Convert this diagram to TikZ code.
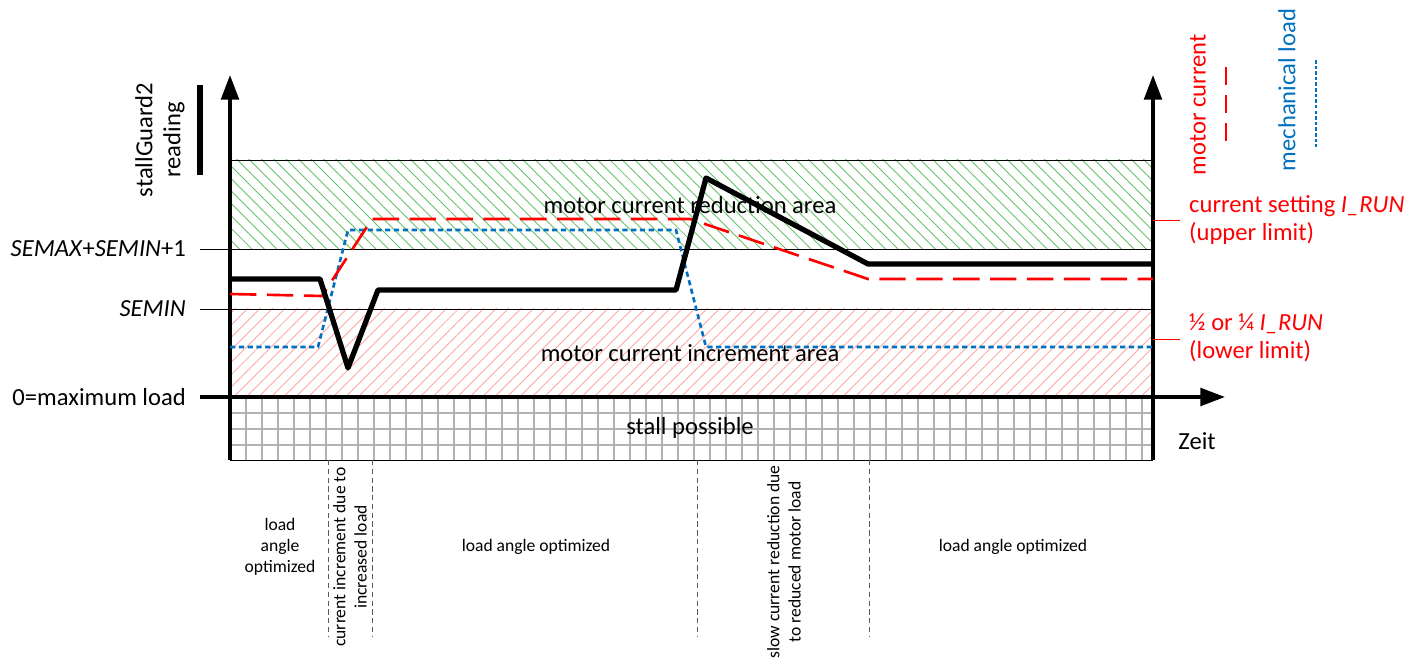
\documentclass[tikz,border=0pt]{standalone}
\usepackage{fontspec}
\setmainfont{Carlito}
\usetikzlibrary{patterns.meta,arrows.meta}
\definecolor{loadblue}{RGB}{0,112,192}
\tikzset{
  lbl/.style={font=\fontsize{14}{16}\selectfont},
  small/.style={font=\fontsize{10}{12}\selectfont,align=center},
  sep/.style={densely dashed,very thin,gray!70!black},
  axis/.style={line width=2pt,-{Triangle[length=14pt,width=10pt]}}
}
\begin{document}
\begin{tikzpicture}[x=0.02cm,y=-0.02cm]
\useasboundingbox (0,0) rectangle (1428,668);
% areas
\fill[pattern={Lines[angle=-45,distance=5pt,line width=0.5pt]},pattern color=green!60!black!60] (230,160) rectangle (1153,249);
\fill[pattern={Lines[angle=45,distance=5pt,line width=0.5pt]},pattern color=red!35] (230,309) rectangle (1153,397);
\foreach \x in {246,262,...,1150}
  \draw[gray!60,line width=1.2pt] (\x,397) -- (\x,460);
\foreach \y in {413,429,445}
  \draw[gray!60,line width=1.2pt] (230,\y) -- (1153,\y);
\draw (230,160) -- (1153,160);
\draw (200,249) -- (1153,249);
\draw (200,309) -- (1153,309);
\draw (230,460) -- (1153,460);
% axes
\draw[axis] (200,397) -- (1225,397);
\draw[axis] (230,460) -- (230,75);
\draw[axis] (1153,460) -- (1153,75);
\draw[line width=3pt] (200,85) -- (200,175);
% separators
\foreach \x in {328,372,697,869}
  \draw[sep] (\x,460) -- (\x,636);
% curves
\draw[loadblue,line width=1.5pt,dash pattern=on 3pt off 2pt]
  (230,347) -- (318,347) -- (348,230) -- (676,230) -- (706,347) -- (1153,347);
\draw[red,line width=1.5pt,dash pattern=on 15pt off 6pt]
  (230,294) -- (322,296) -- (372,219) -- (690,219) -- (868,279) -- (1153,279);
\draw[line width=3pt,line join=round]
  (230,279) -- (320,279) -- (348,368) -- (378,290) -- (676,290) -- (706,178) -- (868,264) -- (1153,264);
% area labels
\node[lbl] (red) at (690,205) {motor current reduction area};
\node[lbl] (inc) at (690,353) {motor current increment area};
\node[lbl] (stall) at (690,428) {stall possible};
\node[lbl] (zeit) at (1197,441) {Zeit};
% y labels
\node[lbl,anchor=east] (smx) at (192,249) {\textit{SEMAX}+\textit{SEMIN}+1};
\node[lbl,anchor=east] (smn) at (192,309) {\textit{SEMIN}};
\node[lbl,anchor=east] (zero) at (192,397) {0=maximum load};
\node[lbl,rotate=90,align=center] (sg) at (160,140) {stallGuard2\\reading};
% right labels
\draw[red] (1153,220) -- (1180,220);
\draw[red] (1153,339) -- (1180,339);
\node[lbl,red,anchor=west,align=left] (cs) at (1183,220) {current setting \textit{I\_RUN}\\(upper limit)};
\node[lbl,red,anchor=west,align=left] (lo) at (1183,338) {½ or ¼ \textit{I\_RUN}\\(lower limit)};
% legend
\node[lbl,red,rotate=90] (mc) at (1198,105) {motor current};
\coordinate (mct) at (1226,67);
\coordinate (mcb) at (1226,147);
\draw[red,line width=1.5pt,dash pattern=on 10pt off 6pt] (mct) -- (mcb);
\node[lbl,loadblue,rotate=90] (ml) at (1287,90) {mechanical load};
\coordinate (mlt) at (1316,60);
\coordinate (mlb) at (1316,147);
\draw[loadblue,line width=1.5pt,dash pattern=on 2pt off 1.2pt] (mlt) -- (mlb);
% phase labels
\node[small] (p1) at (280,547) {load\\angle\\optimized};
\node[small,rotate=90] (p2) at (350,557) {current increment due to\\increased load};
\node[small] (p3) at (536,547) {load angle optimized};
\node[small,rotate=90] (p4) at (784,562) {slow current reduction due\\to reduced motor load};
\node[small] (p5) at (1013,547) {load angle optimized};
\end{tikzpicture}
\end{document}
